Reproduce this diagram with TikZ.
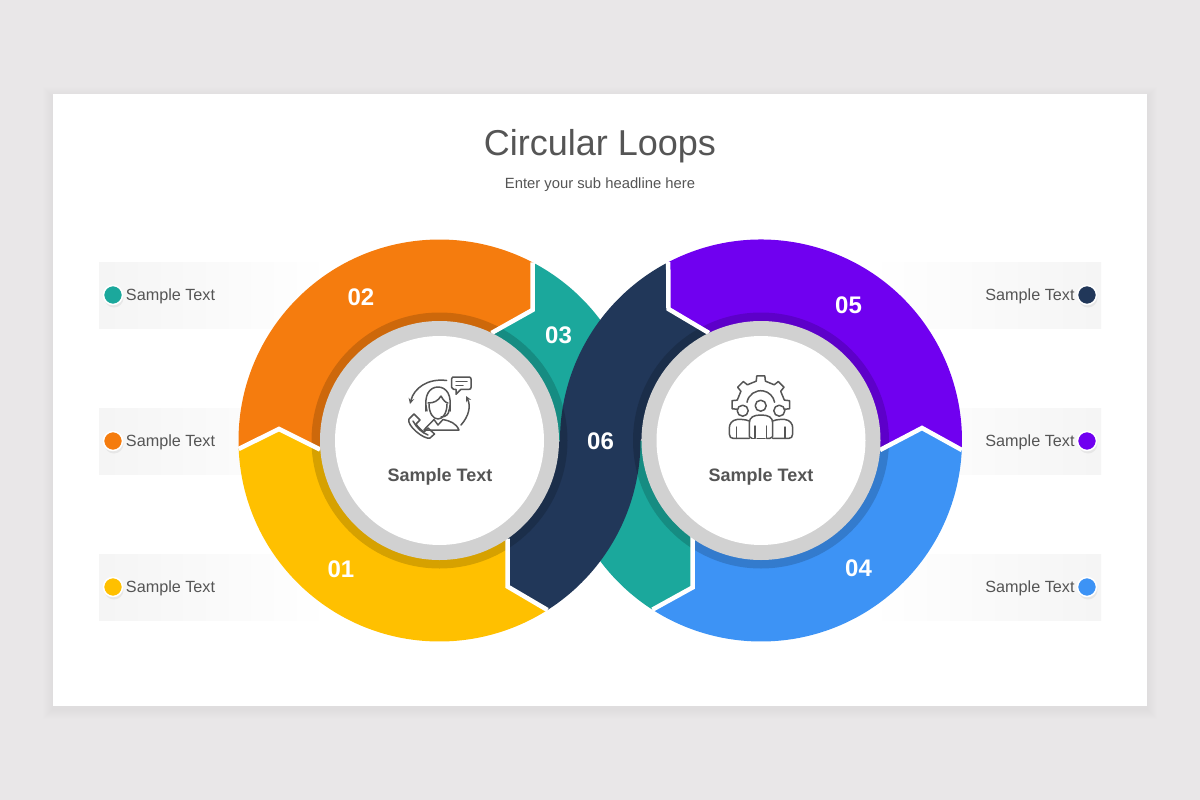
\documentclass[tikz,border=0pt]{standalone}
\usepackage{fontspec}
\setmainfont{Liberation Sans}
\usepackage{tikz}
\usetikzlibrary{arrows,positioning,shadows}
\definecolor{pagegray}{HTML}{E9E7E8}
\definecolor{textgray}{HTML}{555555}
\definecolor{ringgray}{HTML}{D1D1D1}
\definecolor{tealc}{HTML}{1BA89C}
\definecolor{orangec}{HTML}{F57C0E}
\definecolor{yellowc}{HTML}{FFC000}
\definecolor{navyc}{HTML}{213759}
\definecolor{violetc}{HTML}{7000F0}
\definecolor{bluec}{HTML}{3D93F5}

\begin{document}
\begin{tikzpicture}[x=1pt, y=-1pt]
\tikzstyle{cardshadow} = [fill=black, opacity=.004]
\tikzstyle{band} = [draw=none]
\tikzstyle{legend} = [text=textgray, inner sep=0, yshift=-1pt, font=\fontsize{16.2}{18}\selectfont]
\tikzstyle{legenddot} = [circle, draw=white, line width=1.5, minimum size=19, inner sep=0,
  drop shadow={shadow xshift=1pt, shadow yshift=-3pt, opacity=.12}]
\tikzstyle{number} = [text=white, font=\bfseries\fontsize{24}{26}\selectfont]
\tikzstyle{hubtext} = [text=textgray, font=\bfseries\fontsize{18}{20}\selectfont]
\tikzstyle{cut} = [draw=white, line width=4.5, line join=miter]
\tikzstyle{hubshade} = [fill=black, opacity=.16]
\tikzstyle{icon} = [draw=textgray, line width=1.5, line join=round, line cap=round, fill=none]
\tikzstyle{iconarrow} = [icon, ->, >=stealth]

\useasboundingbox (0,0) rectangle (1200,800);
\fill[pagegray] (0,0) rectangle (1200,800);

% card
\foreach \s in {1,...,10}
  \fill[cardshadow] (53-\s,94-\s+3) rectangle (1147+\s,706+\s+3);
\fill[white] (53,94) rectangle (1147,706);

\node (title) at (600,146) [text=textgray, font=\fontsize{36}{40}\selectfont] {Circular Loops};
\node (subtitle) at (600,185) [text=textgray, font=\fontsize{14.8}{17}\selectfont] {Enter your sub headline here};

% legend bands
\foreach \y in {262,408,554} {
  \shade[band, left color=black!4, right color=white] (99,\y) rectangle (330,\y+66);
  \shade[band, left color=white, right color=black!4] (870,\y) rectangle (1101,\y+66);
}

\coordinate (hubL) at (439.5,440.5);
\coordinate (hubR) at (761,440.5);

% points where neighbouring segments meet
\coordinate (cutAa) at ([shift={(177.6:201)}]hubL);
\coordinate (cutAb) at (279,429);
\coordinate (cutAc) at (320,449.5);
\coordinate (cutBa) at ([shift={(-62.4:201)}]hubL);
\coordinate (cutBb) at (532.5,310);
\coordinate (cutBc) at (491.5,333);
\coordinate (cutCa) at ([shift={(57.5:201)}]hubL);
\coordinate (cutCb) at (507.5,586.5);
\coordinate (cutCc) at (507.5,538.5);
\coordinate (cutDa) at ([shift={(-117.5:201)}]hubR);
\coordinate (cutDb) at (668.5,309);
\coordinate (cutDc) at (709,333);
\coordinate (cutEa) at ([shift={(2.7:201)}]hubR);
\coordinate (cutEb) at (922,428);
\coordinate (cutEc) at (880,450);
\coordinate (cutFa) at ([shift={(122.7:201)}]hubR);
\coordinate (cutFb) at (692.5,587.5);
\coordinate (cutFc) at (692.5,537);

% segments
\fill[tealc] (cutBa) arc[start angle=-62.4, end angle=0, radius=201]
  -- (545,440.5) -- (cutBc) -- (cutBb) -- cycle;
\fill[tealc] (560,440.5) arc[start angle=180, end angle=122.7, radius=201]
  -- (cutFb) -- (cutFc) -- (655,440.5) -- cycle;
\fill[orangec] (cutAa) arc[start angle=177.6, end angle=297.6, radius=201]
  -- (cutBb) -- (cutBc) -- (cutAc) -- (cutAb) -- cycle;
\fill[yellowc] (cutAa) arc[start angle=177.6, end angle=57.5, radius=201]
  -- (cutCb) -- (cutCc) -- (cutAc) -- (cutAb) -- cycle;
\fill[violetc] (cutDa) arc[start angle=-117.5, end angle=2.7, radius=201]
  -- (cutEb) -- (cutEc) -- (cutDc) -- (cutDb) -- cycle;
\fill[bluec] (cutEa) arc[start angle=2.7, end angle=122.7, radius=201]
  -- (cutFb) -- (cutFc) -- (cutEc) -- (cutEb) -- cycle;
\fill[navyc] (cutDa) arc[start angle=-117.5, end angle=-180, radius=201]
  -- (cutCc) -- (cutCb) -- (cutCa) arc[start angle=57.5, end angle=0, radius=201]
  -- (cutDc) -- (cutDb) -- cycle;

% hubs
\fill[hubshade] (hubL) circle[radius=128];
\fill[hubshade] (hubR) circle[radius=128];
\draw[cut] (cutAa) -- (cutAb) -- (cutAc);
\draw[cut] (cutBa) -- (cutBb) -- (cutBc);
\draw[cut] (cutCa) -- (cutCb) -- (cutCc);
\draw[cut] (cutDa) -- (cutDb) -- (cutDc);
\draw[cut] (cutEa) -- (cutEb) -- (cutEc);
\draw[cut] (cutFa) -- (cutFb) -- (cutFc);
\foreach \hub in {hubL,hubR} {
  \fill[ringgray] (\hub) circle[radius=119.5];
  \fill[white] (\hub) circle[radius=104.5];
}

\node[number] (numA) at (341,569) {01};
\node[number] (numB) at (361,297) {02};
\node[number] (numC) at (558.5,335) {03};
\node[number] (numD) at (858.5,568) {04};
\node[number] (numE) at (848.5,305) {05};
\node[number] (numF) at (600.5,441) {06};

\node[hubtext] (hubtextL) at (440,477) {Sample Text};
\node[hubtext] (hubtextR) at (761,477) {Sample Text};

% legend, left side
\node[legenddot, fill=tealc] (dotA) at (113,295) {};
\node[legenddot, fill=orangec] (dotB) at (113,441) {};
\node[legenddot, fill=yellowc] (dotC) at (113,587) {};
\node[legend, right=2.5pt of dotA] (labelA) {Sample Text};
\node[legend, right=2.5pt of dotB] (labelB) {Sample Text};
\node[legend, right=2.5pt of dotC] (labelC) {Sample Text};

% legend, right side
\node[legenddot, fill=navyc] (dotD) at (1087,295) {};
\node[legenddot, fill=violetc] (dotE) at (1087,441) {};
\node[legenddot, fill=bluec] (dotF) at (1087,587) {};
\node[legend, left=2pt of dotD] (labelD) {Sample Text};
\node[legend, left=2pt of dotE] (labelE) {Sample Text};
\node[legend, left=2pt of dotF] (labelF) {Sample Text};

% agent icon
\draw[icon] (453,377) -- (469,377) .. controls (470.5,377) and (471,378) .. (471,379)
  -- (471,387.5) .. controls (471,388.5) and (470.5,389.3) .. (469,389.3)
  -- (461,389.3) -- (456,394.3) -- (456,389.3) -- (453.5,389.3)
  .. controls (452.5,389.3) and (451.7,388.5) .. (451.7,387.5) -- (451.7,379)
  .. controls (451.7,378) and (452.5,377) .. (453,377) -- cycle;
\draw[icon] (456,381.5) -- (467,381.5);
\draw[icon] (456,385.5) -- (463,385.5);
\draw[iconarrow] (446.7,380.5) .. controls (428,378) and (414,388) .. (410,404);
\draw[iconarrow] (461,425) .. controls (469,416) and (471,406) .. (466,396);
\draw[icon] (427,411) .. controls (423,395) and (430,387) .. (438,387)
  .. controls (446,387) and (453,395) .. (449,411);
\draw[icon] (428,403) .. controls (434,403) and (438,401) .. (441,396)
  .. controls (443,400) and (446,403) .. (448,403);
\draw[icon] (429,404) .. controls (429,413) and (433,419) .. (438,419)
  .. controls (443,419) and (447,413) .. (447,404);
\draw[icon] (449,410) .. controls (449,414) and (446,417) .. (441,417);
\draw[icon] (425.5,403) -- (425.5,411);
\draw[icon] (450.5,403) -- (450.5,411);
\draw[icon] (424,430) .. controls (428,425) and (432,422) .. (434,419.5)
  -- (438,425) -- (443,419.5) .. controls (450,421) and (456,423) .. (459,430) -- cycle;
\draw[icon] (409,419) -- (414,414) -- (420,420) -- (416,424)
  .. controls (418,427) and (421,430) .. (424,432) -- (428,428) -- (434.5,434) -- (430,438)
  .. controls (424,440) and (406,425) .. (409,419) -- cycle;
\draw[icon] (413,421) .. controls (416,427) and (422,433) .. (428,435);

% team icon
\coordinate (gear) at (760.8,404.7);
\draw[icon] ([shift={(-191:24)}]gear) -- ([shift={(-188:29)}]gear)
  -- ([shift={(-172:29)}]gear) -- ([shift={(-169:24)}]gear)
  \foreach \a in {-135,-90,-45,0} {
    -- ([shift={(\a-11:24)}]gear) -- ([shift={(\a-8:29)}]gear)
    -- ([shift={(\a+8:29)}]gear) -- ([shift={(\a+11:24)}]gear)
  };
\draw[icon] ([shift={(190:14)}]gear) arc[start angle=190, end angle=350, radius=14];
\foreach \hx/\hy in {742.7/410.7,760.7/405.7,779.3/410.7}
  \draw[icon] (\hx,\hy) circle[radius=5.5];
\draw[icon] (752,438.3) .. controls (749,438.3) and (749.3,436) .. (749.3,434) -- (749.3,423)
  .. controls (749.3,417) and (754,415) .. (761,415)
  .. controls (768,415) and (772.7,417) .. (772.7,423) -- (772.7,434)
  .. controls (772.7,436) and (773,438.3) .. (770,438.3) -- (767,438.3);
\draw[icon] (755,426) -- (755,438.3) -- (752,438.3);
\draw[icon] (766.7,426) -- (766.7,438.3);
\draw[icon] (757,438.3) -- (765,438.3);
\draw[icon] (749.3,421) .. controls (745,419.3) and (741,419.3) .. (737,419.5)
  .. controls (732,420) and (729.3,424) .. (729.3,428) -- (729.3,434)
  .. controls (729.3,437) and (731,438.3) .. (733,438.3) -- (749.3,438.3);
\draw[icon] (736.7,427) -- (736.7,438.3);
\draw[icon] (772.7,421) .. controls (777,419.3) and (781,419.3) .. (785,419.5)
  .. controls (790,420) and (792.7,424) .. (792.7,428) -- (792.7,434)
  .. controls (792.7,437) and (791,438.3) .. (789,438.3) -- (772.7,438.3);
\draw[icon] (785,427) -- (785,438.3);
\end{tikzpicture}
\end{document}
